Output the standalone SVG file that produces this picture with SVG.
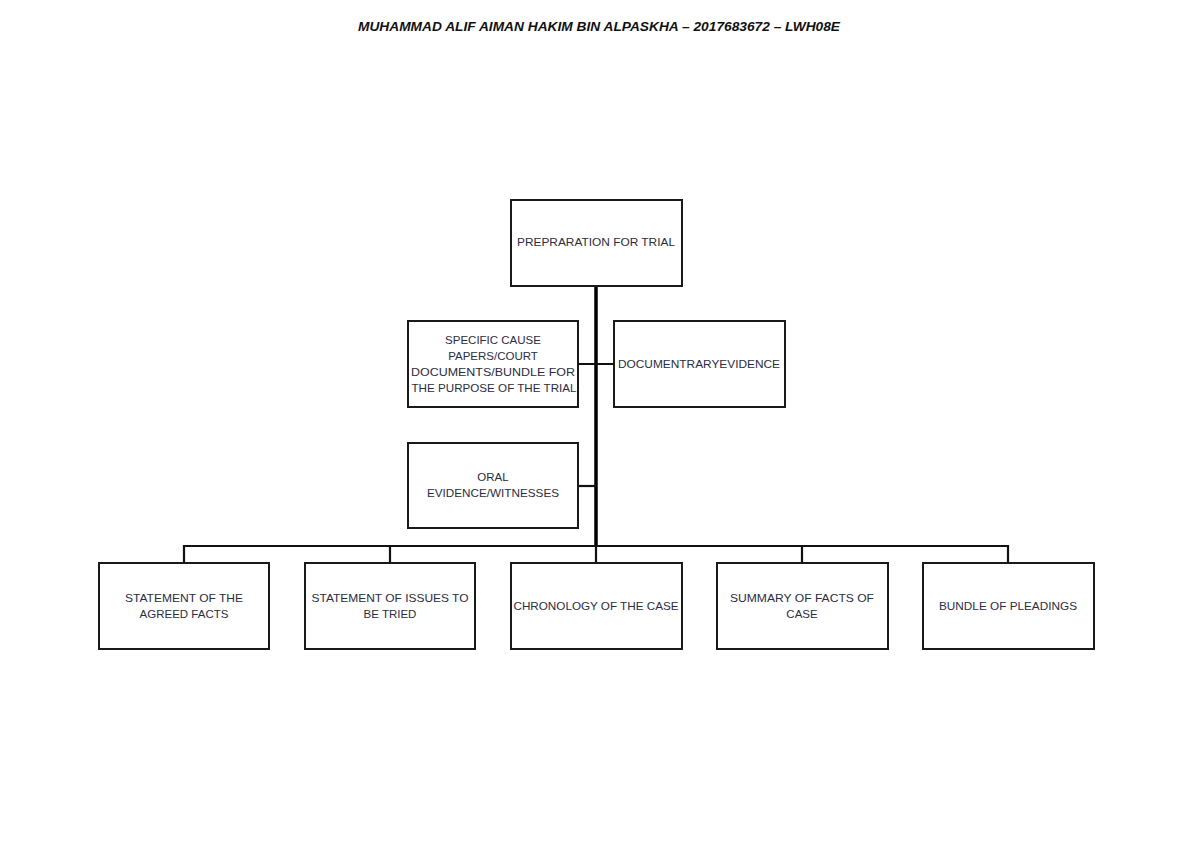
<svg xmlns="http://www.w3.org/2000/svg" width="1200" height="848" viewBox="0 0 1200 848">
<style>
.box{fill:#fff;stroke:#1a1a1a;stroke-width:2}
.shadow{fill:#bbb}
.t{font-family:"Liberation Sans",Arial,sans-serif;font-size:11.5px;fill:#2b2d42;text-anchor:middle}
.title{font-family:"Liberation Sans",Arial,sans-serif;font-size:12px;font-style:italic;font-weight:bold;fill:#111;text-anchor:middle}
.c{fill:none;stroke:#111;stroke-width:2.2}
.trunk{fill:none;stroke:#000;stroke-width:3.5}
</style>
<rect width="1200" height="848" fill="#fff"/>
<text class="title" x="599" y="31" textLength="482" lengthAdjust="spacingAndGlyphs">MUHAMMAD ALIF AIMAN HAKIM BIN ALPASKHA – 2017683672 – LWH08E</text>
<g id="connectors">
<path class="trunk" d="M596 286 V547"/>
<path class="c" d="M578 364 H614"/>
<path class="c" d="M578 486 H596"/>
<path class="c" d="M184 563 V546 H1008 V563"/>
<path class="c" d="M390 546 V563 M802 546 V563"/>
<path class="c" d="M596 546 V563"/>
</g>
<g id="n-top">
<rect class="box" x="511" y="200" width="171" height="86"/>
<text class="t" x="596" y="246" textLength="158" lengthAdjust="spacingAndGlyphs">PREPRARATION FOR TRIAL</text>
</g>
<g id="n-specific">
<rect class="box" x="408" y="321" width="170" height="86"/>
<text class="t" x="493" y="344">SPECIFIC CAUSE</text>
<text class="t" x="493" y="360">PAPERS/COURT</text>
<text class="t" x="493" y="376" textLength="164" lengthAdjust="spacingAndGlyphs">DOCUMENTS/BUNDLE FOR</text>
<text class="t" x="494" y="392" textLength="165" lengthAdjust="spacingAndGlyphs">THE PURPOSE OF THE TRIAL</text>
</g>
<g id="n-documentary">
<rect class="box" x="614" y="321" width="171" height="86"/>
<text class="t" x="699" y="368" textLength="162" lengthAdjust="spacingAndGlyphs">DOCUMENTRARYEVIDENCE</text>
</g>
<g id="n-oral">
<rect class="box" x="408" y="443" width="170" height="85"/>
<text class="t" x="493" y="481">ORAL</text>
<text class="t" x="493" y="497" textLength="132" lengthAdjust="spacingAndGlyphs">EVIDENCE/WITNESSES</text>
</g>
<g id="n-agreed">
<rect class="box" x="99" y="563" width="170" height="86"/>
<text class="t" x="184" y="602" textLength="118" lengthAdjust="spacingAndGlyphs">STATEMENT OF THE</text>
<text class="t" x="184" y="618">AGREED FACTS</text>
</g>
<g id="n-issues">
<rect class="box" x="305" y="563" width="170" height="86"/>
<text class="t" x="390" y="602" textLength="157" lengthAdjust="spacingAndGlyphs">STATEMENT OF ISSUES TO</text>
<text class="t" x="390" y="618">BE TRIED</text>
</g>
<g id="n-chronology">
<rect class="box" x="511" y="563" width="171" height="86"/>
<text class="t" x="596" y="610" textLength="165" lengthAdjust="spacingAndGlyphs">CHRONOLOGY OF THE CASE</text>
</g>
<g id="n-summary">
<rect class="box" x="717" y="563" width="171" height="86"/>
<text class="t" x="802" y="602" textLength="144" lengthAdjust="spacingAndGlyphs">SUMMARY OF FACTS OF</text>
<text class="t" x="802" y="618">CASE</text>
</g>
<g id="n-pleadings">
<rect class="box" x="923" y="563" width="171" height="86"/>
<text class="t" x="1008" y="610" textLength="138" lengthAdjust="spacingAndGlyphs">BUNDLE OF PLEADINGS</text>
</g>
</svg>
